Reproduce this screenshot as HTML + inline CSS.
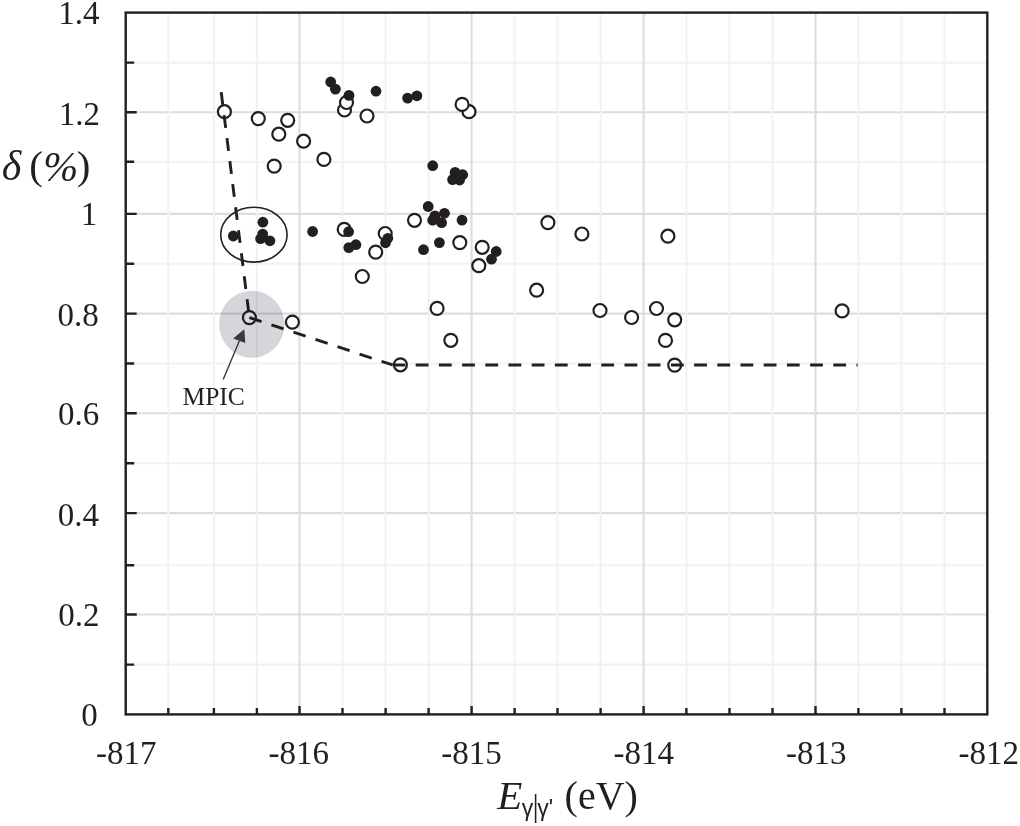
<!DOCTYPE html><html><head><meta charset="utf-8"><title>plot</title><style>
html,body{margin:0;padding:0;background:#fff;}
svg{display:block;}
text{font-family:"Liberation Serif","Times New Roman",serif;fill:#231f20;}
</style></head><body>
<svg width="1020" height="826" viewBox="0 0 1020 826">
<rect width="1020" height="826" fill="#fff"/>
<g stroke-width="2.1"><line x1="125.7" y1="62.6" x2="987.3" y2="62.6" stroke="#f2f2f4"/><line x1="125.7" y1="112.3" x2="987.3" y2="112.3" stroke="#dcdde1"/><line x1="125.7" y1="161.8" x2="987.3" y2="161.8" stroke="#f2f2f4"/><line x1="125.7" y1="213.9" x2="987.3" y2="213.9" stroke="#dcdde1"/><line x1="125.7" y1="263.7" x2="987.3" y2="263.7" stroke="#f2f2f4"/><line x1="125.7" y1="313.6" x2="987.3" y2="313.6" stroke="#dcdde1"/><line x1="125.7" y1="363.5" x2="987.3" y2="363.5" stroke="#f2f2f4"/><line x1="125.7" y1="413.3" x2="987.3" y2="413.3" stroke="#dcdde1"/><line x1="125.7" y1="463.2" x2="987.3" y2="463.2" stroke="#f2f2f4"/><line x1="125.7" y1="513.1" x2="987.3" y2="513.1" stroke="#dcdde1"/><line x1="125.7" y1="565.2" x2="987.3" y2="565.2" stroke="#f2f2f4"/><line x1="125.7" y1="614.5" x2="987.3" y2="614.5" stroke="#dcdde1"/><line x1="125.7" y1="664.6" x2="987.3" y2="664.6" stroke="#f2f2f4"/><line x1="168.3" y1="12.6" x2="168.3" y2="714.4" stroke="#f2f2f4"/><line x1="213.9" y1="12.6" x2="213.9" y2="714.4" stroke="#f2f2f4"/><line x1="256.9" y1="12.6" x2="256.9" y2="714.4" stroke="#f2f2f4"/><line x1="299.5" y1="12.6" x2="299.5" y2="714.4" stroke="#dcdde1"/><line x1="342.5" y1="12.6" x2="342.5" y2="714.4" stroke="#f2f2f4"/><line x1="385.6" y1="12.6" x2="385.6" y2="714.4" stroke="#f2f2f4"/><line x1="428.6" y1="12.6" x2="428.6" y2="714.4" stroke="#f2f2f4"/><line x1="471.6" y1="12.6" x2="471.6" y2="714.4" stroke="#dcdde1"/><line x1="514.6" y1="12.6" x2="514.6" y2="714.4" stroke="#f2f2f4"/><line x1="557.5" y1="12.6" x2="557.5" y2="714.4" stroke="#f2f2f4"/><line x1="600.6" y1="12.6" x2="600.6" y2="714.4" stroke="#f2f2f4"/><line x1="643.6" y1="12.6" x2="643.6" y2="714.4" stroke="#dcdde1"/><line x1="686.4" y1="12.6" x2="686.4" y2="714.4" stroke="#f2f2f4"/><line x1="729.5" y1="12.6" x2="729.5" y2="714.4" stroke="#f2f2f4"/><line x1="772.5" y1="12.6" x2="772.5" y2="714.4" stroke="#f2f2f4"/><line x1="815.5" y1="12.6" x2="815.5" y2="714.4" stroke="#dcdde1"/><line x1="858.4" y1="12.6" x2="858.4" y2="714.4" stroke="#f2f2f4"/><line x1="901.4" y1="12.6" x2="901.4" y2="714.4" stroke="#f2f2f4"/><line x1="944.5" y1="12.6" x2="944.5" y2="714.4" stroke="#f2f2f4"/></g>
<ellipse cx="253.9" cy="234.7" rx="33.2" ry="27.4" fill="none" stroke="#231f20" stroke-width="1.6"/>
<g fill="#fff" stroke="#231f20" stroke-width="2.2"><circle cx="224.4" cy="111.7" r="6.5"/><circle cx="258.3" cy="118.6" r="6.5"/><circle cx="287.7" cy="120.3" r="6.5"/><circle cx="278.8" cy="134.2" r="6.5"/><circle cx="303.6" cy="141.2" r="6.5"/><circle cx="323.9" cy="159.4" r="6.5"/><circle cx="274.2" cy="166.1" r="6.5"/><circle cx="344.5" cy="110.0" r="6.5"/><circle cx="346.5" cy="102.5" r="6.5"/><circle cx="367.0" cy="116.0" r="6.5"/><circle cx="469.0" cy="111.7" r="6.5"/><circle cx="462.1" cy="104.4" r="6.5"/><circle cx="344.2" cy="229.4" r="6.5"/><circle cx="385.2" cy="233.5" r="6.5"/><circle cx="375.7" cy="252.1" r="6.5"/><circle cx="362.3" cy="276.5" r="6.5"/><circle cx="414.5" cy="220.3" r="6.5"/><circle cx="459.8" cy="242.6" r="6.5"/><circle cx="482.2" cy="247.3" r="6.5"/><circle cx="478.8" cy="265.7" r="6.5"/><circle cx="547.9" cy="222.6" r="6.5"/><circle cx="581.9" cy="234.0" r="6.5"/><circle cx="536.6" cy="290.2" r="6.5"/><circle cx="667.9" cy="236.2" r="6.5"/><circle cx="600.0" cy="310.5" r="6.5"/><circle cx="631.6" cy="317.5" r="6.5"/><circle cx="656.5" cy="308.5" r="6.5"/><circle cx="674.7" cy="319.8" r="6.5"/><circle cx="665.5" cy="340.4" r="6.5"/><circle cx="674.7" cy="365.1" r="6.5"/><circle cx="400.4" cy="364.8" r="6.5"/><circle cx="842.1" cy="310.9" r="6.5"/><circle cx="249.4" cy="317.6" r="6.5"/><circle cx="292.4" cy="322.1" r="6.5"/><circle cx="437.1" cy="308.4" r="6.5"/><circle cx="450.8" cy="340.3" r="6.5"/></g>
<g stroke="#231f20" stroke-width="2.9" stroke-dasharray="12.8 10.4" fill="none"><line x1="221.2" y1="92.1" x2="249.4" y2="317.6"/><line x1="249.4" y1="317.6" x2="392.5" y2="364.9"/><line x1="392.5" y1="365.0" x2="857.6" y2="365.0"/></g>
<g fill="#231f20"><circle cx="330.7" cy="82.0" r="5.4"/><circle cx="335.4" cy="89.1" r="5.4"/><circle cx="349.0" cy="95.4" r="5.4"/><circle cx="376.0" cy="91.2" r="5.4"/><circle cx="407.6" cy="98.1" r="5.4"/><circle cx="416.9" cy="95.8" r="5.4"/><circle cx="432.7" cy="165.7" r="5.4"/><circle cx="455.1" cy="172.4" r="5.4"/><circle cx="462.7" cy="174.7" r="5.4"/><circle cx="452.6" cy="179.6" r="5.4"/><circle cx="459.6" cy="180.0" r="5.4"/><circle cx="428.2" cy="206.5" r="5.4"/><circle cx="434.9" cy="215.8" r="5.4"/><circle cx="444.5" cy="213.3" r="5.4"/><circle cx="432.7" cy="220.2" r="5.4"/><circle cx="441.6" cy="222.7" r="5.4"/><circle cx="462.0" cy="220.1" r="5.4"/><circle cx="439.4" cy="242.6" r="5.4"/><circle cx="423.5" cy="249.7" r="5.4"/><circle cx="496.2" cy="251.5" r="5.4"/><circle cx="491.5" cy="259.2" r="5.4"/><circle cx="233.3" cy="236.0" r="5.4"/><circle cx="262.9" cy="222.2" r="5.4"/><circle cx="262.7" cy="234.1" r="5.4"/><circle cx="260.6" cy="238.7" r="5.4"/><circle cx="269.9" cy="240.8" r="5.4"/><circle cx="312.6" cy="231.5" r="5.4"/><circle cx="348.6" cy="231.7" r="5.4"/><circle cx="348.8" cy="247.6" r="5.4"/><circle cx="355.9" cy="244.7" r="5.4"/><circle cx="387.8" cy="238.3" r="5.4"/><circle cx="385.5" cy="242.8" r="5.4"/></g>
<ellipse cx="251.8" cy="324.3" rx="32.7" ry="33.5" fill="#d5d6d9" style="mix-blend-mode:multiply"/>
<line x1="223.2" y1="379.4" x2="239.4" y2="340.8" stroke="#3a3a3c" stroke-width="1.4"/>
<polygon points="244.3,329.2 233.1,338.5 245.3,343.0" fill="#3a3a3c"/>
<text x="182.5" y="404.8" font-size="25.5">MPIC</text>
<g stroke="#231f20" stroke-width="2.4" fill="none" stroke-linecap="square">
<rect x="125.7" y="12.6" width="861.6" height="701.8"/>
<path d="M168.3 714.4V708.0 M213.9 714.4V708.0 M256.9 714.4V708.0 M299.5 714.4V706.0 M342.5 714.4V708.0 M385.6 714.4V708.0 M428.6 714.4V708.0 M471.6 714.4V706.0 M514.6 714.4V708.0 M557.5 714.4V708.0 M600.6 714.4V708.0 M643.6 714.4V706.0 M686.4 714.4V708.0 M729.5 714.4V708.0 M772.5 714.4V708.0 M815.5 714.4V706.0 M858.4 714.4V708.0 M901.4 714.4V708.0 M944.5 714.4V708.0 M125.7 62.6H134.2 M125.7 112.3H136.7 M125.7 161.8H134.2 M125.7 213.9H136.7 M125.7 263.7H134.2 M125.7 313.6H136.7 M125.7 363.5H134.2 M125.7 413.3H136.7 M125.7 463.2H134.2 M125.7 513.1H136.7 M125.7 565.2H134.2 M125.7 614.5H136.7 M125.7 664.6H134.2" stroke-linecap="butt"/>
</g>
<g font-size="33">
<text x="58.3" y="24.2">1.4</text>
<text x="58.8" y="124.9">1.2</text>
<text x="80.7" y="224.5">1</text>
<text x="57.6" y="325.6">0.8</text>
<text x="58.0" y="425.4">0.6</text>
<text x="57.7" y="525.8">0.4</text>
<text x="58.2" y="625.7">0.2</text>
<text x="81.3" y="726.3">0</text>
<text x="95.9" y="763.6">-817</text>
<text x="268.6" y="763.6">-816</text>
<text x="441.3" y="763.6">-815</text>
<text x="613.6" y="763.6">-814</text>
<text x="786.0" y="763.6">-813</text>
<text x="958.5" y="763.6">-812</text>
</g>
<text y="180" font-size="42"><tspan x="1.7" font-style="italic">δ </tspan><tspan x="29.3" y="179" font-size="41">(</tspan><tspan x="43.2" y="180.6" font-style="italic" font-size="42">%</tspan><tspan x="76.7" y="179" font-size="41">)</tspan></text>
<text y="808.8" font-size="41"><tspan x="497.2" font-style="italic">E</tspan><tspan x="521.8" y="815.8" font-family="Liberation Sans, Arial, sans-serif" font-size="23">γ</tspan><tspan x="532.5" y="815.5" font-size="31">|</tspan><tspan x="537.2" y="815.8" font-family="Liberation Sans, Arial, sans-serif" font-size="23">γ' </tspan><tspan x="564.6" y="808.8" font-size="40">(eV)</tspan></text>
</svg></body></html>
